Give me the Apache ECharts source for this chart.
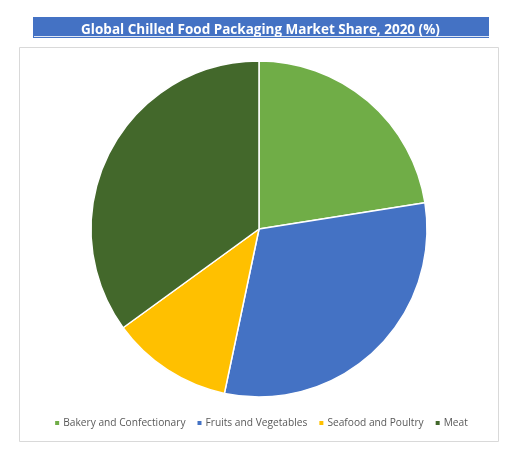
<!DOCTYPE html>
<html>
<head>
<meta charset="utf-8">
<script src="https://cdn.jsdelivr.net/npm/echarts@6/dist/echarts.min.js"></script>
<style>
  html, body { margin: 0; padding: 0; background: #fff; }
  #main { width: 521px; height: 460px; }
</style>
</head>
<body>
<div id="main"></div>
<script>
const categories = ["Bakery and Confectionary", "Fruits and Vegetables", "Seafood and Poultry", "Meat"];
const shares = [22.5, 30.8, 11.7, 35.0];
const colors = ["#70AD47", "#4472C4", "#FFC000", "#43682B"];

const chart = echarts.init(document.getElementById("main"));
chart.setOption({
  animation: false,
  graphic: [
    {
      type: "rect",
      shape: { x: 19.5, y: 47.5, width: 479, height: 394 },
      style: { fill: "#fff", stroke: "#d9d9d9", lineWidth: 1 },
      z: -1,
    },
    {
      type: "rect",
      shape: { x: 33, y: 17, width: 456, height: 21 },
      style: { fill: "#4472C4" },
      z: 0,
    },
    {
      type: "rect",
      shape: { x: 34, y: 36, width: 455, height: 1 },
      style: { fill: "#dfe7f5" },
      z: 1,
    },
  ],
  title: {
    text: "Global Chilled Food Packaging Market Share, 2020 (%)",
    left: "center",
    top: 18,
    textStyle: {
      color: "#fff",
      fontFamily: "Open Sans",
      fontWeight: "bold",
      fontSize: 13.5,
    },
  },
  legend: {
    bottom: 27,
    left: "center",
    icon: "rect",
    itemWidth: 6,
    itemHeight: 6,
    itemGap: 10,
    textStyle: { color: "#595959", fontFamily: "Open Sans", fontSize: 10.2, padding: [0, 0, 0, -2] },
    data: categories,
  },
  series: [{
    type: "pie",
    center: [259, 229],
    radius: 168,
    startAngle: 90,
    clockwise: true,
    label: { show: false },
    labelLine: { show: false },
    itemStyle: { borderColor: "#fff", borderWidth: 1.5 },
    emphasis: { disabled: true },
    data: categories.map((name, i) => ({ name, value: shares[i], itemStyle: { color: colors[i] } })),
  }],
});
</script>
</body>
</html>
